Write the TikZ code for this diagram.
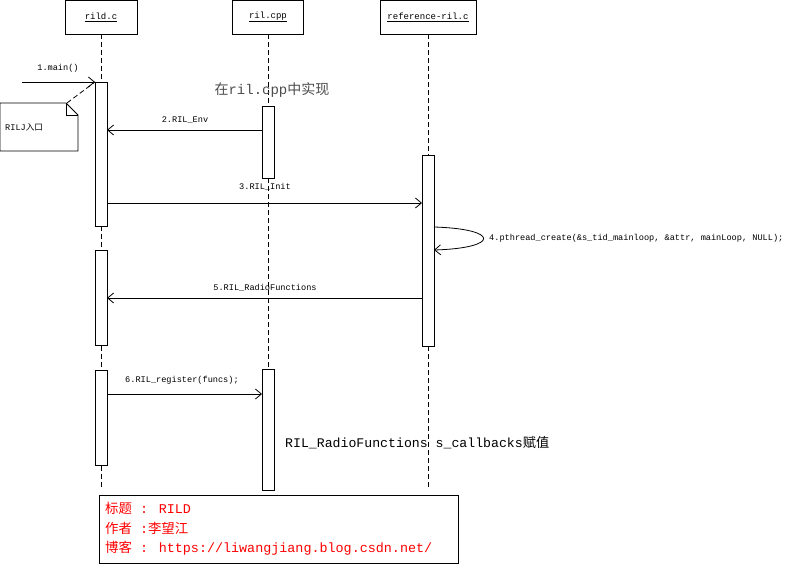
\documentclass[tikz,border=0pt]{standalone}
\usepackage{fontspec}
\setmainfont{Liberation Mono}
\newfontfamily\cjk{Noto Sans CJK SC}
\usetikzlibrary{arrows.meta}
\begin{document}
\begin{tikzpicture}[x=1pt,y=-1pt,
  obj/.style={draw,thick,minimum width=#1,minimum height=34pt,inner sep=0pt,font=\fontsize{9}{11}\selectfont},
  act/.style={draw,fill=white,thick},
  life/.style={thick,dash pattern=on 5pt off 3pt},
  msg/.style={thick,-{Straight Barb[length=6pt,width=10pt]}},
  lbl/.style={font=\fontsize{8.6}{10}\selectfont,inner sep=1pt}]
\useasboundingbox (0,0) rectangle (795,564);
\node[obj=72pt] (A) at (101,17) {\underline{rild.c}};
\node[obj=71pt] (B) at (268,17) {\underline{ril.cpp}};
\node[obj=96pt] (C) at (428,17) {\underline{reference-ril.c}};
\coordinate (Ae) at (101,490); \coordinate (Be) at (268,490); \coordinate (Ce) at (428,490);
\draw[life] (A) -- (Ae); \draw[life] (B) -- (Be); \draw[life] (C) -- (Ce);
\draw[act] (95,82) rectangle (107,226);
\draw[act] (95,250) rectangle (107,345);
\draw[act] (95,370) rectangle (107,465);
\draw[act] (262,106) rectangle (274,178);
\draw[act] (262,369) rectangle (274,490);
\draw[act] (422,155) rectangle (434,346);
\node[lbl,text=gray!60!black,font=\fontsize{14}{16}\selectfont] (t1) at (272,90) {{\cjk 在}ril.cpp{\cjk 中实现}};
% note
\draw[thick,fill=white] (0,103) -- (66,103) -- (78,115) -- (78,151) -- (0,151) -- cycle;
\draw[thick] (66,103) -- (66,115) -- (78,115);
\node[lbl,anchor=west] (note) at (4,127) {RILJ{\cjk 入口}};
\coordinate (m0) at (22,82); \coordinate (m1) at (95,82); \coordinate (n1) at (67,103);
\draw[msg] (m0) -- (m1);
\draw[thick,dash pattern=on 5pt off 3pt] (n1) -- (m1);
\node[lbl] at (58,68) {1.main()};
\coordinate (e0) at (262,130); \coordinate (e1) at (107,130);
\draw[msg] (e0) -- (e1); \node[lbl] at (185,120) {2.RIL\_Env};
\coordinate (i0) at (107,203); \coordinate (i1) at (422,203);
\draw[msg] (i0) -- (i1); \node[lbl] at (265,187) {3.RIL\_Init};
\coordinate (s0) at (434,227); \coordinate (s1) at (434,250);
\draw[msg] (s0) .. controls (500,229) and (500,248) .. (s1);
\node[lbl,anchor=west] at (488,238) {4.pthread\_create(\&s\_tid\_mainloop, \&attr, mainLoop, NULL);};
\coordinate (r0) at (422,298); \coordinate (r1) at (107,298);
\draw[msg] (r0) -- (r1); \node[lbl] at (265,288) {5.RIL\_RadioFunctions};
\coordinate (g0) at (107,394); \coordinate (g1) at (262,394);
\draw[msg] (g0) -- (g1); \node[lbl,anchor=west] at (124,380) {6.RIL\_register(funcs);};
\node[anchor=west,inner sep=0pt,font=\fontsize{13.2}{15}\selectfont] (t2) at (285,443) {RIL\_RadioFunctions s\_callbacks{\cjk 赋值}};
\draw[thick,fill=white] (99,495) rectangle (458,563);
\node[anchor=west,text=red,align=left,inner sep=0pt,font=\fontsize{13.4}{19.5}\selectfont] (ft) at (105,529)
 {{\cjk 标题} : RILD\\{\cjk 作者} :{\cjk 李望江}\\{\cjk 博客} : https://liwangjiang.blog.csdn.net/};
\end{tikzpicture}
\end{document}
